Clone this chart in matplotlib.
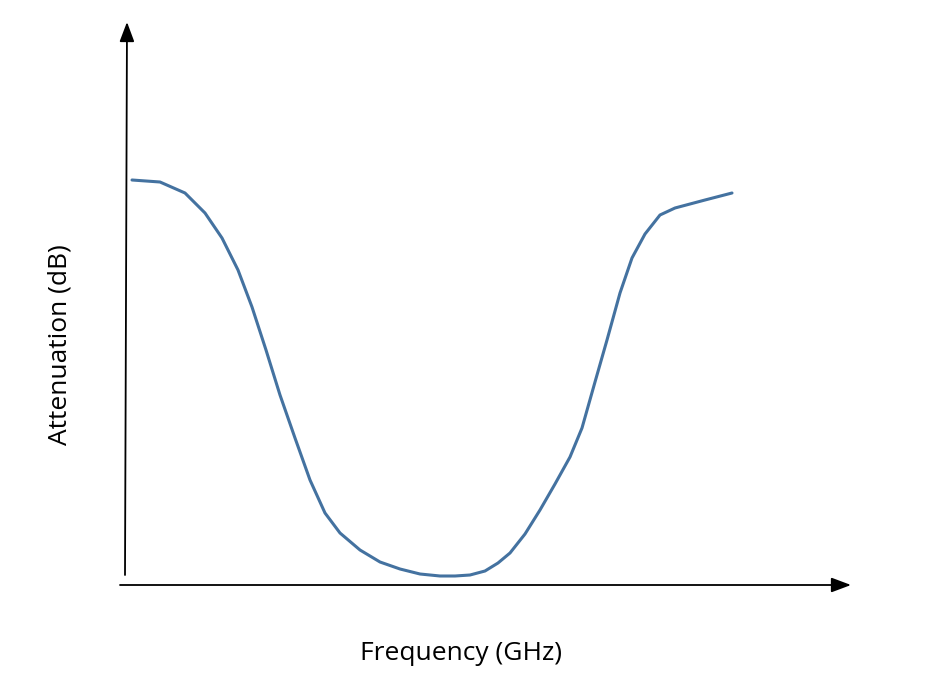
import numpy as np
import matplotlib
matplotlib.use("Agg")
from matplotlib import pyplot as plt

# schematic response, units = figure pixels (x right, y up from bottom)
freq = [132, 160, 185, 205, 222, 238, 252, 266, 280, 295, 310, 325, 340, 360,
        380, 400, 420, 440, 455, 470, 485, 498, 510, 525, 540, 555, 570, 582,
        595, 607, 620, 632, 645, 660, 675, 690, 705, 732]
atten = [510, 508, 497, 477, 452, 420, 383, 340, 295, 252, 210, 177, 157, 140,
         128, 121, 116, 114, 114, 115, 119, 127, 137, 156, 180, 206, 233, 262,
         308, 350, 397, 432, 456, 475, 482, 486, 490, 497]

X_LABEL = "Frequency (GHz)"
Y_LABEL = "Attenuation (dB)"

fig = plt.figure(figsize=(9.25, 6.9), dpi=100)
ax = fig.add_axes([0, 0, 1, 1])
ax.set_xlim(0, 925)
ax.set_ylim(0, 690)
ax.axis("off")

ax.plot(freq, atten, color="#4472a0", lw=2.2, solid_capstyle="round")

arrow = dict(arrowstyle="-|>,head_length=1.2,head_width=0.45", color="black",
             lw=1.3, shrinkA=0, shrinkB=0)
ax.annotate("", xy=(127, 668), xytext=(125, 115), arrowprops=arrow)
ax.annotate("", xy=(851, 105), xytext=(120, 105), arrowprops=arrow)

ax.text(461, 36, X_LABEL, ha="center", va="center", fontsize=19, family="Open Sans")
ax.text(60, 345, Y_LABEL, ha="center", va="center", rotation=90,
        fontsize=19, family="Open Sans")

fig.savefig("out.png", dpi=100)
